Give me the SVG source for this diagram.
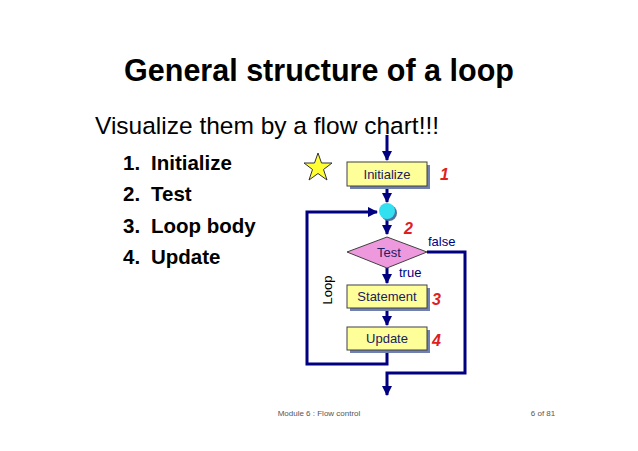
<svg xmlns="http://www.w3.org/2000/svg" width="638" height="451" viewBox="0 0 638 451">
<style>
.ln{fill:none;stroke:#000080;stroke-width:3}
.box{fill:#ffff99;stroke:#404040;stroke-width:1}
.sh{fill:#7080b0}
.bt{font-family:"Liberation Sans",Arial,sans-serif;font-size:13px;fill:#202060;text-anchor:middle}
.num{font-family:"Liberation Sans",Arial,sans-serif;font-size:16px;font-weight:bold;font-style:italic;fill:#e02020}
.lab{font-family:"Liberation Sans",Arial,sans-serif;font-size:13px;fill:#000080}
.li{font-family:"Liberation Sans",Arial,sans-serif;font-size:20.5px;font-weight:bold}
</style>
<defs><marker id="a" viewBox="0 0 10 10" refX="9" refY="5" markerWidth="3.5" markerHeight="3.5" orient="auto"><path d="M0,0L10,5L0,10z" fill="#000080"/></marker></defs>
<rect width="638" height="451" fill="#fff"/>
<text x="319" y="81" text-anchor="middle" font-family="Liberation Sans,Arial,sans-serif" font-size="30.5" font-weight="bold">General structure of a loop</text>
<text x="95" y="134" font-family="Liberation Sans,Arial,sans-serif" font-size="24.5">Visualize them by a flow chart!!!</text>
<text class="li" y="170"><tspan x="123">1.</tspan><tspan x="151">Initialize</tspan></text>
<text class="li" y="201"><tspan x="123">2.</tspan><tspan x="151">Test</tspan></text>
<text class="li" y="233"><tspan x="123">3.</tspan><tspan x="151">Loop body</tspan></text>
<text class="li" y="264"><tspan x="123">4.</tspan><tspan x="151">Update</tspan></text>
<g id="connectors">
<path class="ln" d="M387,135V160" marker-end="url(#a)"/>
<path class="ln" d="M387,189V202" marker-end="url(#a)"/>
<path class="ln" d="M387,220V234" marker-end="url(#a)"/>
<path class="ln" d="M387,268V283" marker-end="url(#a)"/>
<path class="ln" d="M387,311V325" marker-end="url(#a)"/>
<path class="ln" d="M387,353V364H307V212H377" marker-end="url(#a)"/>
<path class="ln" d="M427,252H465V373H387V395" marker-end="url(#a)"/>
</g>
<g id="star"><polygon points="318,153 321.5,163 332,163 323.5,169.5 327,180 318,173.5 309,180 312.5,169.5 304,163 314.5,163" fill="#ffff33" stroke="#333" stroke-width="1"/></g>
<g id="initialize"><rect class="sh" x="350" y="165" width="80" height="24"/><rect class="box" x="347" y="162" width="80" height="24"/><text class="bt" x="387" y="179">Initialize</text><text class="num" x="440" y="180">1</text></g>
<g id="junction"><circle cx="389" cy="213" r="8" fill="#5070a0"/><circle cx="387" cy="211" r="8" fill="#33e0f0"/></g>
<g id="test"><polygon points="387,237 427,252 387,268 347,252" fill="#ee99dd" stroke="#404040"/><text class="bt" x="389" y="257">Test</text><text class="num" x="404" y="234">2</text></g>
<g id="statement"><rect class="sh" x="350" y="288" width="80" height="23"/><rect class="box" x="347" y="285" width="80" height="23"/><text class="bt" x="387" y="301">Statement</text><text class="num" x="432" y="305">3</text></g>
<g id="update"><rect class="sh" x="350" y="330" width="80" height="23"/><rect class="box" x="347" y="327" width="80" height="23"/><text class="bt" x="387" y="343">Update</text><text class="num" x="432" y="346">4</text></g>
<text class="lab" x="428" y="246">false</text>
<text class="lab" x="399" y="277">true</text>
<text x="0" y="0" transform="translate(332,290) rotate(-90)" text-anchor="middle" font-family="Liberation Sans,Arial,sans-serif" font-size="13">Loop</text>
<text x="319" y="416" text-anchor="middle" font-family="Liberation Sans,Arial,sans-serif" font-size="8" fill="#555">Module 6 : Flow control</text>
<text x="543" y="416" text-anchor="middle" font-family="Liberation Sans,Arial,sans-serif" font-size="8" fill="#555">6 of 81</text>
</svg>
